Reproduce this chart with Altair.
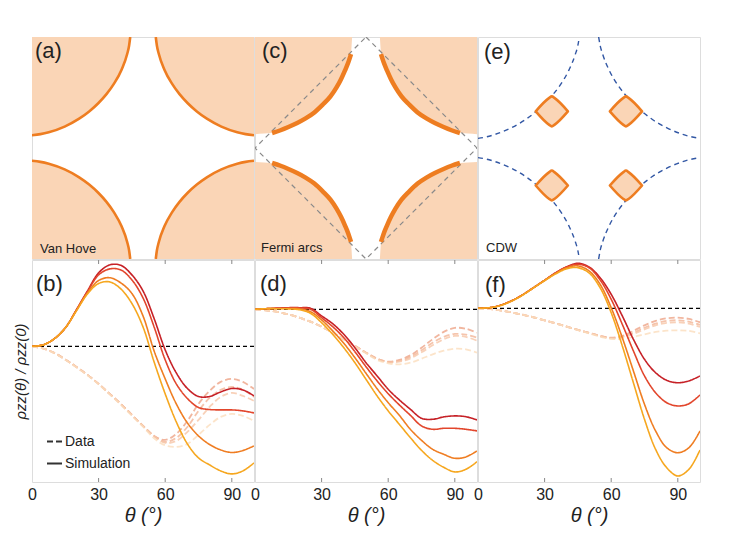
import altair as alt
import pandas as pd

# ---------------- data ----------------
THETA = [0, 5, 10, 15, 20, 25, 30, 35, 40, 45, 50, 55, 60, 65, 70, 75, 80, 85, 90, 95, 100]
TICKS = [30, 60, 90]

# panel (b) Van Hove: simulations (dark red -> gold) and data (dashed)
B_SIM1 = [1.000, 1.007, 1.037, 1.092, 1.182, 1.277, 1.367, 1.407, 1.405, 1.357, 1.277, 1.139, 0.982, 0.867, 0.789, 0.749, 0.749, 0.772, 0.789, 0.782, 0.752]
B_SIM2 = [1.000, 1.007, 1.037, 1.092, 1.182, 1.274, 1.357, 1.387, 1.382, 1.332, 1.242, 1.097, 0.932, 0.812, 0.739, 0.694, 0.684, 0.682, 0.682, 0.677, 0.667]
B_SIM3 = [1.000, 1.007, 1.037, 1.092, 1.179, 1.267, 1.329, 1.343, 1.317, 1.264, 1.152, 0.977, 0.837, 0.712, 0.617, 0.552, 0.509, 0.482, 0.469, 0.479, 0.502]
B_SIM4 = [1.000, 1.007, 1.037, 1.092, 1.177, 1.262, 1.314, 1.322, 1.287, 1.214, 1.097, 0.922, 0.762, 0.622, 0.512, 0.442, 0.407, 0.377, 0.362, 0.377, 0.417]
B_DAT1 = [1.000, 0.989, 0.967, 0.934, 0.897, 0.857, 0.812, 0.762, 0.712, 0.657, 0.602, 0.552, 0.532, 0.562, 0.627, 0.712, 0.777, 0.822, 0.837, 0.822, 0.787]
B_DAT2 = [1.000, 0.989, 0.967, 0.934, 0.897, 0.857, 0.812, 0.762, 0.712, 0.657, 0.602, 0.552, 0.522, 0.542, 0.597, 0.677, 0.742, 0.782, 0.797, 0.782, 0.747]
B_DAT3 = [1.000, 0.989, 0.967, 0.934, 0.897, 0.857, 0.812, 0.762, 0.712, 0.657, 0.602, 0.550, 0.517, 0.527, 0.572, 0.632, 0.697, 0.747, 0.767, 0.752, 0.727]
B_DAT4 = [1.000, 0.989, 0.966, 0.933, 0.895, 0.855, 0.810, 0.760, 0.708, 0.652, 0.598, 0.540, 0.505, 0.497, 0.512, 0.557, 0.607, 0.647, 0.662, 0.652, 0.627]

# panel (d) Fermi arcs
D_SIM1 = [1.000, 1.003, 1.006, 1.008, 1.008, 1.005, 0.967, 0.928, 0.875, 0.808, 0.733, 0.667, 0.600, 0.547, 0.500, 0.455, 0.450, 0.462, 0.467, 0.463, 0.447]
D_SIM2 = [1.000, 1.003, 1.005, 1.007, 1.007, 1.000, 0.958, 0.913, 0.858, 0.788, 0.713, 0.642, 0.578, 0.522, 0.470, 0.417, 0.400, 0.405, 0.405, 0.400, 0.392]
D_SIM3 = [1.000, 1.003, 1.004, 1.004, 1.002, 0.988, 0.947, 0.892, 0.830, 0.758, 0.680, 0.603, 0.533, 0.470, 0.400, 0.345, 0.300, 0.275, 0.255, 0.262, 0.292]
D_SIM4 = [1.000, 1.003, 1.003, 1.002, 0.998, 0.980, 0.933, 0.875, 0.808, 0.733, 0.650, 0.567, 0.492, 0.425, 0.358, 0.295, 0.245, 0.210, 0.187, 0.200, 0.238]
D_DAT1 = [1.000, 0.995, 0.987, 0.975, 0.958, 0.938, 0.913, 0.883, 0.850, 0.817, 0.783, 0.753, 0.738, 0.747, 0.770, 0.808, 0.850, 0.887, 0.907, 0.903, 0.883]
D_DAT2 = [1.000, 0.995, 0.987, 0.975, 0.958, 0.938, 0.913, 0.883, 0.850, 0.817, 0.783, 0.753, 0.737, 0.742, 0.762, 0.795, 0.833, 0.862, 0.877, 0.873, 0.858]
D_DAT3 = [1.000, 0.995, 0.987, 0.975, 0.958, 0.938, 0.913, 0.883, 0.850, 0.817, 0.783, 0.752, 0.735, 0.738, 0.755, 0.785, 0.820, 0.850, 0.867, 0.862, 0.843]
D_DAT4 = [1.000, 0.995, 0.987, 0.975, 0.958, 0.938, 0.913, 0.883, 0.850, 0.815, 0.780, 0.747, 0.730, 0.725, 0.733, 0.753, 0.775, 0.793, 0.803, 0.800, 0.783]

# panel (f) CDW
F_SIM1 = [1.000, 1.003, 1.015, 1.037, 1.067, 1.103, 1.140, 1.178, 1.208, 1.225, 1.207, 1.153, 1.070, 0.962, 0.845, 0.745, 0.678, 0.640, 0.628, 0.637, 0.662]
F_SIM2 = [1.000, 1.003, 1.015, 1.037, 1.067, 1.103, 1.140, 1.177, 1.207, 1.220, 1.203, 1.142, 1.045, 0.920, 0.787, 0.662, 0.578, 0.528, 0.512, 0.523, 0.567]
F_SIM3 = [1.000, 1.003, 1.015, 1.037, 1.067, 1.103, 1.140, 1.175, 1.203, 1.212, 1.187, 1.120, 1.003, 0.853, 0.687, 0.520, 0.387, 0.303, 0.278, 0.303, 0.387]
F_SIM4 = [1.000, 1.003, 1.013, 1.035, 1.065, 1.102, 1.138, 1.172, 1.198, 1.203, 1.177, 1.103, 0.978, 0.812, 0.628, 0.445, 0.295, 0.203, 0.162, 0.195, 0.292]
F_DAT1 = [1.000, 0.997, 0.990, 0.980, 0.968, 0.955, 0.940, 0.925, 0.908, 0.892, 0.877, 0.862, 0.853, 0.862, 0.887, 0.915, 0.937, 0.950, 0.953, 0.947, 0.930]
F_DAT2 = [1.000, 0.997, 0.990, 0.980, 0.968, 0.955, 0.940, 0.925, 0.908, 0.892, 0.877, 0.862, 0.852, 0.858, 0.878, 0.903, 0.923, 0.937, 0.940, 0.933, 0.917]
F_DAT3 = [1.000, 0.997, 0.990, 0.980, 0.968, 0.955, 0.940, 0.925, 0.908, 0.892, 0.877, 0.861, 0.850, 0.855, 0.872, 0.895, 0.915, 0.927, 0.930, 0.923, 0.907]
F_DAT4 = [1.000, 0.997, 0.990, 0.980, 0.968, 0.955, 0.940, 0.925, 0.908, 0.891, 0.875, 0.858, 0.847, 0.847, 0.857, 0.870, 0.882, 0.888, 0.890, 0.887, 0.875]

# Fermi-surface contours, upper-right quadrant (mirrored to the others)
VH_X = [0.115, 0.125, 0.142, 0.193, 0.264, 0.329, 0.403, 0.485, 0.575, 0.706, 0.849, 0.924, 1.0]
VH_Y = [1.0, 0.924, 0.849, 0.706, 0.575, 0.485, 0.403, 0.329, 0.264, 0.193, 0.142, 0.125, 0.115]
FA_X = [0.125, 0.13, 0.135, 0.16, 0.189, 0.225, 0.264, 0.32, 0.39, 0.465, 0.548, 0.62, 0.699, 0.77, 0.846, 0.92, 1.0]
FA_Y = [1.0, 0.92, 0.846, 0.77, 0.699, 0.62, 0.548, 0.465, 0.39, 0.32, 0.264, 0.225, 0.189, 0.16, 0.135, 0.13, 0.125]
ARC_FIRST, ARC_LAST = 2, 14
DIAMOND_X = [0.0, 1.0, 0.0, -1.0, 0.0]
DIAMOND_Y = [1.0, 0.0, -1.0, 0.0, 1.0]
CDW_X = [0.087, 0.101, 0.123, 0.181, 0.257, 0.325, 0.400, 0.482, 0.571, 0.702, 0.845, 0.921, 1.0]
CDW_Y = [1.0, 0.921, 0.845, 0.702, 0.571, 0.482, 0.400, 0.325, 0.257, 0.181, 0.123, 0.101, 0.087]
POCKET_CX = [-0.335, 0.333, -0.335, 0.333]
POCKET_CY = [0.330, 0.330, -0.338, -0.338]
POCKET_HALF = 0.145

# ---------------- style ----------------
SIM_COLORS = ["#C62127", "#E2462C", "#EF7D22", "#F6A71F"]
DATA_COLORS = ["#EEA487", "#F2B597", "#F6C6A8", "#FBDDBD"]
PEACH = "#FAD5B6"
ORANGE = "#EE7D21"
BLUE = "#3257A4"
FONT = "Liberation Sans"
TXT = "#222222"
W, H = 222, 222
CURVE = "catmull-rom"

QUADS = [(1, 1), (-1, 1), (1, -1), (-1, -1)]


def mirrored(xs, ys, first=0, last=None):
    last = len(xs) - 1 if last is None else last
    rows = []
    for r, (sx, sy) in enumerate(QUADS):
        pts = [(sx * xs[i], sy * ys[i]) for i in range(first, last + 1)]
        pts.sort()
        for i, (x, y) in enumerate(pts):
            rows.append({"region": r, "i": i, "x": x, "y": y, "edge": float(sy)})
    return pd.DataFrame(rows)


def sq_x():
    return alt.X("x:Q", scale=alt.Scale(domain=[-1, 1], nice=False, zero=False), axis=None)


def sq_y():
    return alt.Y("y:Q", scale=alt.Scale(domain=[-1, 1], nice=False, zero=False), axis=None, stack=None)


def label(text, x, y, size=22, baseline="top"):
    return alt.Chart(pd.DataFrame({"t": [text]})).mark_text(
        align="left", baseline=baseline, fontSize=size, font=FONT, color=TXT
    ).encode(x=alt.value(x), y=alt.value(y), text="t:N")


def fill_layer(df):
    return alt.Chart(df).mark_area(color=PEACH, clip=True, interpolate="monotone").encode(
        x=sq_x(), y=sq_y(), y2="edge:Q", detail="region:N"
    )


def contour_layer(df, **kw):
    return alt.Chart(df).mark_line(clip=True, interpolate="monotone", **kw).encode(
        x=sq_x(), y=sq_y(), detail="region:N", order=alt.Order("x:Q")
    )


# panel (a)
vh = mirrored(VH_X, VH_Y)
panel_a = alt.layer(
    fill_layer(vh),
    contour_layer(vh, color=ORANGE, strokeWidth=2.6),
    label("(a)", 3, 4),
    label("Van Hove", 8, 216, size=13, baseline="alphabetic"),
).properties(width=W, height=H)

# panel (c)
fa = mirrored(FA_X, FA_Y)
arcs = mirrored(FA_X, FA_Y, ARC_FIRST, ARC_LAST)
dia = pd.DataFrame({"i": list(range(len(DIAMOND_X))), "x": DIAMOND_X, "y": DIAMOND_Y})
panel_c = alt.layer(
    fill_layer(fa),
    alt.Chart(dia).mark_line(color="#8a8a8a", strokeDash=[5, 4], strokeWidth=1.2, clip=True).encode(
        x=sq_x(), y=sq_y(), order=alt.Order("i:Q")
    ),
    contour_layer(arcs, color=ORANGE, strokeWidth=4.5),
    label("(c)", 7, 4),
    label("Fermi arcs", 6, 215, size=13, baseline="alphabetic"),
).properties(width=W, height=H)

# panel (e): small diamond pockets with slightly rounded top/bottom corners
cdw = mirrored(CDW_X, CDW_Y)
prow = []
for k, (cx, cy) in enumerate(zip(POCKET_CX, POCKET_CY)):
    h = POCKET_HALF
    prow += [
        {"p": k, "x": cx - h, "y": cy, "y2": cy},
        {"p": k, "x": cx - 0.18 * h, "y": cy + 0.82 * h, "y2": cy - 0.82 * h},
        {"p": k, "x": cx, "y": cy + h * 0.93, "y2": cy - h * 0.93},
        {"p": k, "x": cx + 0.18 * h, "y": cy + 0.82 * h, "y2": cy - 0.82 * h},
        {"p": k, "x": cx + h, "y": cy, "y2": cy},
    ]
pockets = pd.DataFrame(prow)
panel_e = alt.layer(
    contour_layer(cdw, color=BLUE, strokeWidth=1.4, strokeDash=[5, 4]),
    alt.Chart(pockets).mark_area(fill=PEACH, stroke=ORANGE, strokeWidth=2.6, strokeJoin="round",
                                 interpolate="monotone").encode(
        x=sq_x(), y=sq_y(), y2="y2:Q", detail="p:N"
    ),
    label("(e)", 6, 5),
    label("CDW", 8, 215, size=13, baseline="alphabetic"),
).properties(width=W, height=H)


# bottom panels
def bottom(sims, dats, domain, letter, lx, ly, with_y=False, with_legend=False):
    srows, drows = [], []
    for k, vals in enumerate(sims):
        for t, v in zip(THETA, vals):
            srows.append({"theta": t, "v": v, "series": f"S{k+1}", "kind": "Simulation"})
    for k, vals in enumerate(dats):
        for t, v in zip(THETA, vals):
            drows.append({"theta": t, "v": v, "series": f"D{k+1}", "kind": "Data"})
    sdf, ddf = pd.DataFrame(srows), pd.DataFrame(drows)

    xaxis = alt.Axis(values=[0, 30, 60, 90], title="θ (°)", labelFontSize=16, labelFont=FONT,
                     labelColor=TXT, labelFlush=False, labelPadding=4, tickSize=0, domain=False,
                     grid=False, titleFontSize=20, titleFont=FONT, titleFontWeight="normal",
                     titleFontStyle="italic", titleColor=TXT, titlePadding=3)
    xs = alt.X("theta:Q", scale=alt.Scale(domain=[0, 100], nice=False, zero=False), axis=xaxis)
    if with_y:
        yaxis = alt.Axis(title="ρzz(θ) / ρzz(0)", labels=False, ticks=False, domain=False, grid=False,
                         titleFontSize=15, titleFont=FONT, titleFontStyle="italic",
                         titleFontWeight="normal", titleColor=TXT, titlePadding=4)
    else:
        yaxis = None
    ys = alt.Y("v:Q", scale=alt.Scale(domain=domain, nice=False, zero=False), axis=yaxis)
    color = alt.Color("series:N", scale=alt.Scale(domain=["D1", "D2", "D3", "D4", "S1", "S2", "S3", "S4"],
                                                  range=DATA_COLORS + SIM_COLORS), legend=None)
    if with_legend:
        dash = alt.StrokeDash("kind:N", scale=alt.Scale(domain=["Data", "Simulation"], range=[[6, 3], [1, 0]]),
                              legend=alt.Legend(title=None, orient="none", legendX=14, legendY=396,
                                                symbolType="stroke", symbolSize=225, symbolStrokeWidth=1.8,
                                                symbolStrokeColor="black", labelFontSize=14, labelFont=FONT,
                                                labelColor=TXT, labelOffset=2, rowPadding=6, padding=0))
    else:
        dash = alt.StrokeDash("kind:N", scale=alt.Scale(domain=["Data", "Simulation"], range=[[6, 3], [1, 0]]),
                              legend=None)
    data_layer = alt.Chart(ddf).mark_line(strokeWidth=1.8, opacity=0.8, interpolate=CURVE, clip=True).encode(
        x=xs, y=ys, color=color, strokeDash=dash, detail="series:N")
    sim_layer = alt.Chart(sdf).mark_line(strokeWidth=1.6, interpolate=CURVE, clip=True).encode(
        x=xs, y=ys, color=color, strokeDash=dash, detail="series:N")
    bdf = pd.DataFrame({"v": [1.0]})
    base = alt.Chart(bdf).mark_rule(color="black", strokeDash=[4, 3], strokeWidth=1.2).encode(y=ys)
    tdf = pd.DataFrame({"theta": TICKS})
    tick_b = alt.Chart(tdf).mark_rule(color="#888888", strokeWidth=1).encode(
        x=xs, y=alt.value(H - 4), y2=alt.value(H))
    tick_t = alt.Chart(tdf).mark_rule(color="#888888", strokeWidth=1).encode(
        x=xs, y=alt.value(0), y2=alt.value(4))
    return alt.layer(data_layer, base, sim_layer, tick_b, tick_t, label(letter, lx, ly)).properties(width=W, height=H)


panel_b = bottom([B_SIM1, B_SIM2, B_SIM3, B_SIM4], [B_DAT1, B_DAT2, B_DAT3, B_DAT4],
                 [0.3215, 1.4315], "(b)", 4, 14, with_y=True, with_legend=True)
panel_d = bottom([D_SIM1, D_SIM2, D_SIM3, D_SIM4], [D_DAT1, D_DAT2, D_DAT3, D_DAT4],
                 [0.1365, 1.2465], "(d)", 5, 14)
panel_f = bottom([F_SIM1, F_SIM2, F_SIM3, F_SIM4], [F_DAT1, F_DAT2, F_DAT3, F_DAT4],
                 [0.1317, 1.2415], "(f)", 7, 15)

chart = alt.concat(panel_a, panel_c, panel_e, panel_b, panel_d, panel_f, columns=3, spacing=1,
                   bounds="flush").configure_view(stroke="#9b9b9b", strokeWidth=1).configure(font=FONT).properties(
    padding={"left": 4, "top": 28, "right": 5, "bottom": 5}, background="white")

chart.save("out.html", embed_options={"renderer": "svg", "actions": False})
